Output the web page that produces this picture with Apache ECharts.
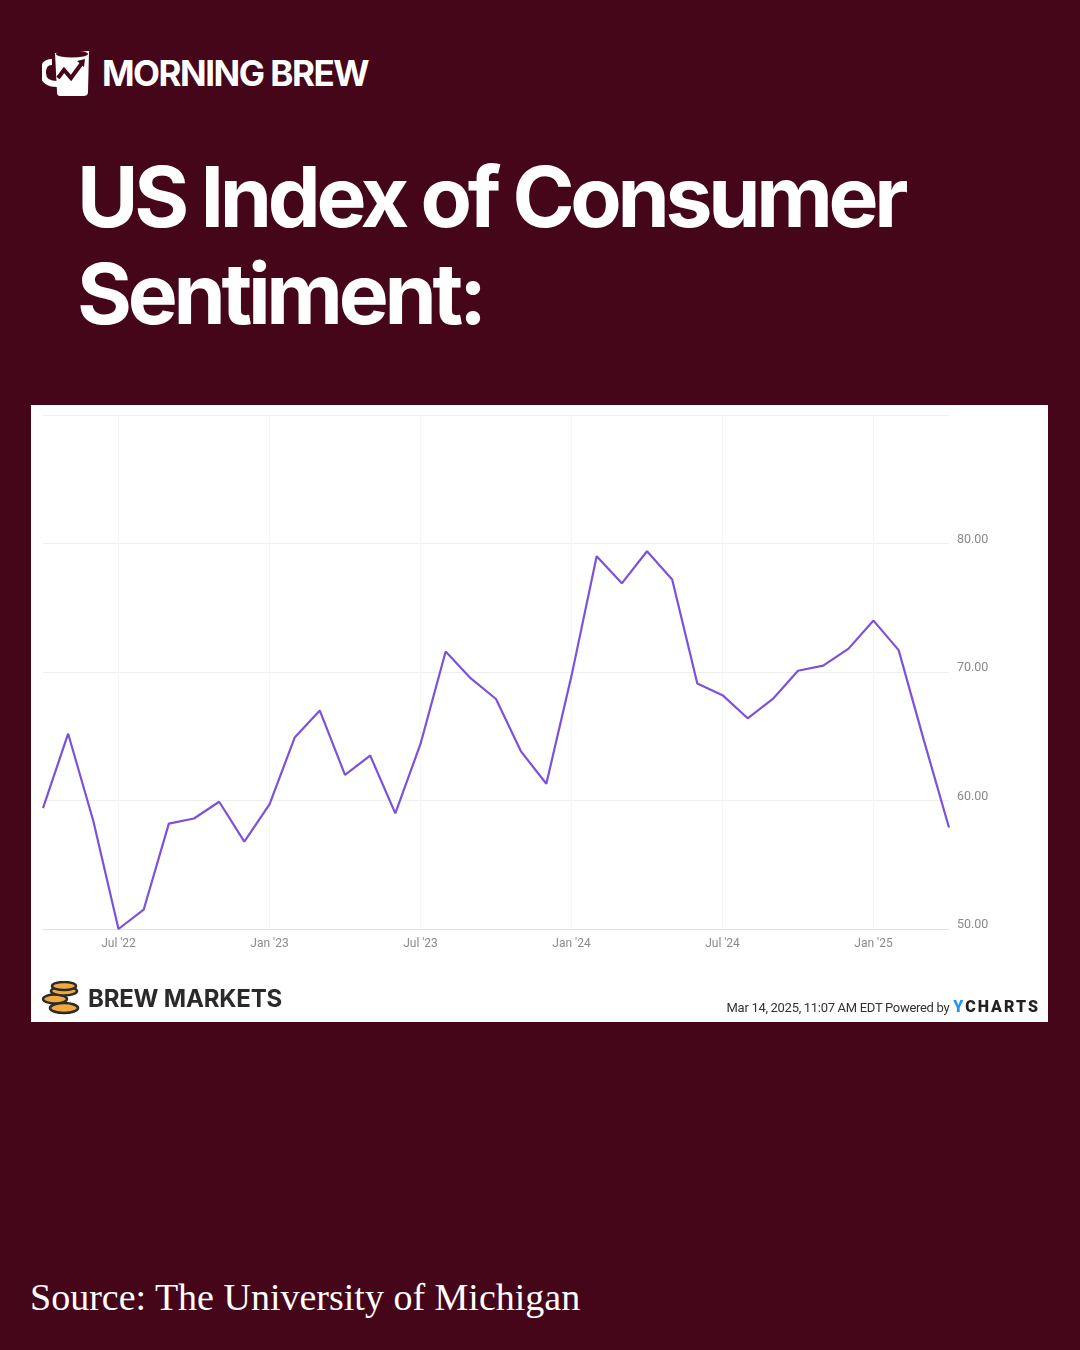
<!doctype html>
<html>
<head>
<meta charset="UTF-8">
<script src="https://cdn.jsdelivr.net/npm/echarts@6.0.0/dist/echarts.min.js"></script>
<style>
    html, body { margin: 0; padding: 0; }
    body { width: 1080px; height: 1350px; background: #46061a; position: relative; overflow: hidden; font-family: Inter, "Noto Sans", sans-serif; }
    .brand { position: absolute; left: 42px; top: 48px; height: 50px; display: flex; align-items: center; }
    .brand span { color: #fff; font-weight: 700; font-size: 35px; letter-spacing: -1.5px; margin-left: 10px; }
    .title { position: absolute; left: 77px; top: 148px; color: #fff; font-weight: 700; font-size: 84px; line-height: 97px; letter-spacing: -4.3px; }
    .source { position: absolute; left: 30px; top: 1275px; color: #fff; font-family: "Liberation Serif", serif; font-size: 38px; }
    #card { position: absolute; left: 31px; top: 405px; width: 1017px; height: 617px; background: #fff; }
    #chart { position: absolute; left: 0; top: 0; width: 1017px; height: 617px; }
    .bm { position: absolute; left: 11px; top: 576px; display: flex; align-items: center; }
    .bm span { font-weight: 700; font-size: 24px; color: #2a2a2a; margin-left: 8px; letter-spacing: -0.2px; }
    .yc { position: absolute; right: 8px; top: 592px; display: flex; align-items: baseline; }
    .yc .stamp { font-family: Roboto, sans-serif; font-size: 13px; color: #333; letter-spacing: -0.3px; }
    .yc .logo { font-family: Roboto, sans-serif; font-weight: 900; font-size: 16px; letter-spacing: 2px; color: #222; margin-left: 4px; }
    .yc .logo b { color: #2196f3; }
</style>
</head>
<body>
<div class="brand">
    <svg width="50" height="50" viewBox="0 0 50 50">
        <path d="M10 14 C2 14 1 20 1 25 C1 32 6 36 15 36" fill="none" stroke="#fff" stroke-width="6" />
        <path d="M13 5 L47 3 L46 44 C46 47 44 48 41 48 L19 48 C16 48 15 47 15 44 Z" fill="#fff" />
        <ellipse cx="30" cy="6" rx="16" ry="3.5" fill="#46061a" />
        <path d="M16 30 L22 22 L29 30 L40 15" fill="none" stroke="#46061a" stroke-width="4" />
        <path d="M35 13 L43 11 L42 19 Z" fill="#46061a" />
    </svg>
    <span>MORNING BREW</span>
</div>
<div class="title">US Index of Consumer<br>Sentiment:</div>

<div id="card">
    <div id="chart"></div>
    <div class="bm">
        <svg width="38" height="34" viewBox="0 0 38 34">
            <ellipse cx="22" cy="27" rx="14" ry="5" fill="#f2a93b" stroke="#2a2a2a" stroke-width="2.5" />
            <ellipse cx="13" cy="18" rx="12" ry="4.5" fill="#f2a93b" stroke="#2a2a2a" stroke-width="2.5" />
            <ellipse cx="22" cy="10" rx="13" ry="4.5" fill="#f2a93b" stroke="#2a2a2a" stroke-width="2.5" />
            <ellipse cx="22" cy="5" rx="12" ry="4" fill="#f2a93b" stroke="#2a2a2a" stroke-width="2.5" />
        </svg>
        <span>BREW MARKETS</span>
    </div>
    <div class="yc">
        <span class="stamp">Mar 14, 2025, 11:07 AM EDT Powered by</span>
        <span class="logo"><b>Y</b>CHARTS</span>
    </div>
</div>

<div class="source">Source: The University of Michigan</div>

<script type="text/javascript">
    // monthly readings, plotted at month end (Mar 2022 - Mar 2025)
    var months = [
        'Mar 2022', 'Apr 2022', 'May 2022', 'Jun 2022', 'Jul 2022', 'Aug 2022', 'Sep 2022', 'Oct 2022', 'Nov 2022', 'Dec 2022',
        'Jan 2023', 'Feb 2023', 'Mar 2023', 'Apr 2023', 'May 2023', 'Jun 2023', 'Jul 2023', 'Aug 2023', 'Sep 2023', 'Oct 2023', 'Nov 2023', 'Dec 2023',
        'Jan 2024', 'Feb 2024', 'Mar 2024', 'Apr 2024', 'May 2024', 'Jun 2024', 'Jul 2024', 'Aug 2024', 'Sep 2024', 'Oct 2024', 'Nov 2024', 'Dec 2024',
        'Jan 2025', 'Feb 2025', 'Mar 2025'
    ];
    var sentiment = [
        59.4, 65.2, 58.4, 50.0, 51.5, 58.2, 58.6, 59.9, 56.8, 59.7,
        64.9, 67.0, 62.0, 63.5, 59.0, 64.4, 71.6, 69.5, 67.9, 63.8, 61.3, 69.7,
        79.0, 76.9, 79.4, 77.2, 69.1, 68.2, 66.4, 67.9, 70.1, 70.5, 71.8, 74.0,
        71.7, 64.7, 57.9
    ];
    // month-end points that fall on the axis ticks, and the label shown there
    var tickMonths = ['Jun 2022', 'Dec 2022', 'Jun 2023', 'Dec 2023', 'Jun 2024', 'Dec 2024'];
    var tickLabels = ["Jul '22", "Jan '23", "Jul '23", "Jan '24", "Jul '24", "Jan '25"];
    var yTicks = [50, 60, 70, 80];

    function isTick(i, v) {
        return tickMonths.indexOf(v) >= 0;
    }

    var myChart = echarts.init(document.getElementById('chart'));
    var options = {
        animation: false,
        grid: { left: 12, top: 10, right: 99, bottom: 93 },
        xAxis: {
            type: 'category',
            data: months,
            boundaryGap: false,
            axisLine: { lineStyle: { color: '#e2e2e2', width: 1 } },
            axisTick: { show: false },
            axisLabel: {
                interval: isTick,
                formatter: function (v) {
                    var k = tickMonths.indexOf(v);
                    return k >= 0 ? tickLabels[k] : '';
                },
                color: '#8a8a8a',
                fontFamily: 'Roboto',
                fontSize: 12,
                margin: 9
            },
            splitLine: { show: true, interval: isTick, lineStyle: { color: '#f5f5f5' } }
        },
        yAxis: {
            type: 'value',
            position: 'right',
            min: 50,
            max: 90,
            interval: 10,
            axisLine: { show: false },
            axisTick: { show: false },
            axisLabel: {
                formatter: function (v) {
                    return yTicks.indexOf(v) >= 0 ? v.toFixed(2) : '';
                },
                color: '#8a8a8a',
                fontFamily: 'Roboto',
                fontSize: 12.5,
                margin: 8,
                verticalAlign: 'bottom',
                lineHeight: 8
            },
            splitLine: { lineStyle: { color: '#eeeeee' } }
        },
        series: [{
            name: 'US Index of Consumer Sentiment',
            type: 'line',
            data: sentiment,
            symbol: 'none',
            lineStyle: { color: '#7b52d9', width: 2.2 }
        }]
    };
    myChart.setOption(options);
</script>
</body>
</html>
